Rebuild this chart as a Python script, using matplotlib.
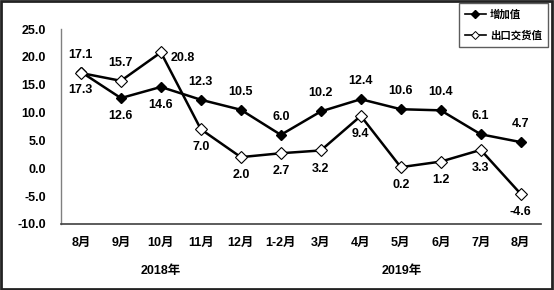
import matplotlib.pyplot as plt
from matplotlib.lines import Line2D
from matplotlib.patches import Rectangle

plt.rcParams['font.family'] = ['Liberation Sans', 'Noto Sans CJK SC']
plt.rcParams['font.weight'] = 'bold'

months = ['8月', '9月', '10月', '11月', '12月', '1-2月', '3月', '4月', '5月', '6月', '7月', '8月']
added_value = [17.3, 12.6, 14.6, 12.3, 10.5, 6.0, 10.2, 12.4, 10.6, 10.4, 6.1, 4.7]
export_value = [17.1, 15.7, 20.8, 7.0, 2.0, 2.7, 3.2, 9.4, 0.2, 1.2, 3.3, -4.6]
series_names = ['增加值', '出口交货值']
year_labels = ['2018年', '2019年']

# label placement: +1 above, -1 below, 'r' right
added_pos = [-1, -1, -1, 1, 1, 1, 1, 1, 1, 1, 1, 1]
export_pos = [1, 1, 'r', -1, -1, -1, -1, -1, -1, -1, -1, -1]

fig = plt.figure(figsize=(5.54, 2.9), dpi=100)
ax = fig.add_axes([0.110, 0.2276, 0.866, 0.6724])

x = list(range(len(months)))
ax.plot(x, added_value, color='black', lw=1.8, marker='D', ms=5.5,
        mfc='black', mec='black', zorder=3)
ax.plot(x, export_value, color='black', lw=1.8, marker='D', ms=6.5,
        mfc='white', mec='black', mew=0.8, zorder=4)

fs = 9
for xi, v, p in zip(x, added_value, added_pos):
    ax.annotate(f'{v:.1f}', (xi, v), xytext=(0, 13 * p), textcoords='offset points',
                ha='center', va='center', fontsize=fs, fontweight='bold')
for xi, v, p in zip(x, export_value, export_pos):
    off = (16, -4) if p == 'r' else (0, 13 * p)
    ax.annotate(f'{v:.1f}', (xi, v), xytext=off, textcoords='offset points',
                ha='center', va='center', fontsize=fs, fontweight='bold')

ax.set_xlim(-0.5, 11.5)
ax.set_ylim(-10, 25)
ax.set_yticks([-10, -5, 0, 5, 10, 15, 20, 25])
ax.set_yticklabels([f'{t:.1f}' for t in [-10, -5, 0, 5, 10, 15, 20, 25]])
ax.set_xticks(x)
ax.set_xticklabels(months)
ax.tick_params(axis='both', length=0, labelsize=fs)
ax.tick_params(axis='y', pad=11)
ax.tick_params(axis='x', pad=9)
for lbl in ax.get_xticklabels() + ax.get_yticklabels():
    lbl.set_fontweight('bold')

ax.spines['top'].set_visible(False)
ax.spines['right'].set_visible(False)
ax.spines['left'].set_color('#808080')
ax.spines['bottom'].set_color('#404040')
ax.spines['left'].set_linewidth(1.0)
ax.spines['bottom'].set_linewidth(1.2)

fig.text(161 / 554, 1 - 271 / 290, year_labels[0], ha='center', va='center',
         fontsize=fs, fontweight='bold')
fig.text(402 / 554, 1 - 271 / 290, year_labels[1], ha='center', va='center',
         fontsize=fs, fontweight='bold')

handles = [
    Line2D([], [], color='black', lw=1.2, marker='D', ms=4, mfc='black', mec='black'),
    Line2D([], [], color='black', lw=1.2, marker='D', ms=4.5, mfc='white', mec='black', mew=0.7),
]
leg = fig.legend(handles, series_names, loc='upper right',
                 bbox_to_anchor=(548 / 554, 1 - 3 / 290), fontsize=7.5,
                 frameon=True, fancybox=False, handlelength=2.0,
                 borderpad=0.6, labelspacing=1.0, handletextpad=0.4,
                 borderaxespad=0)
leg.get_frame().set_edgecolor('#333333')
leg.get_frame().set_linewidth(1.0)
for t in leg.get_texts():
    t.set_fontweight('bold')

fig.patches.append(Rectangle((0.002, 0.003), 0.994, 0.992, transform=fig.transFigure,
                             fill=False, edgecolor='#222222', lw=2))

fig.savefig('out.png', dpi=100)
